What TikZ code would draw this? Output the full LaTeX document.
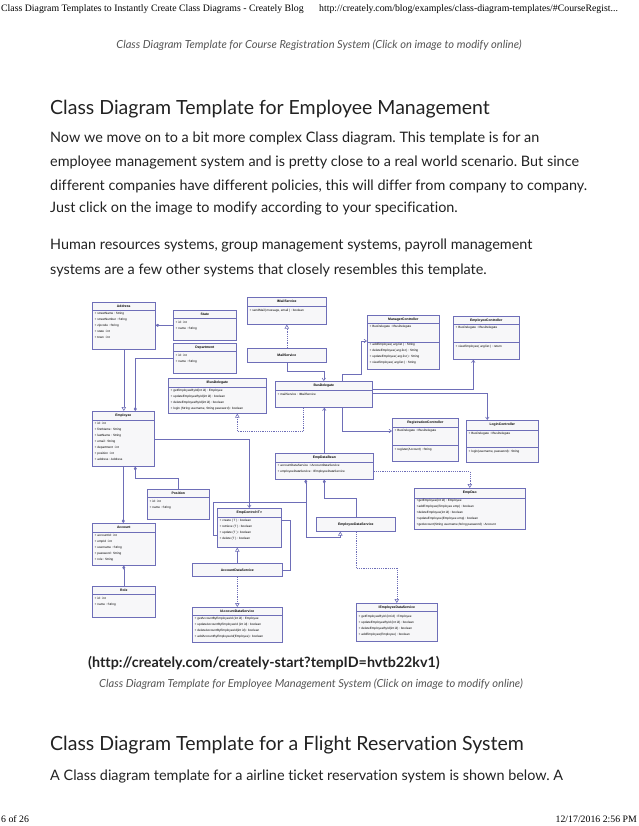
\documentclass[tikz,border=0pt]{standalone}
\usepackage{fontspec}
\setmainfont{Lato}[Ligatures=NoCommon]
\newfontfamily\timesfont{Liberation Serif}
\newfontfamily\boxfont{Liberation Sans}
\usetikzlibrary{positioning, calc, arrows.meta}
\frenchspacing

\definecolor{umlline}{HTML}{6E6EB8}
\definecolor{umlfill}{HTML}{F7F7F9}
\definecolor{capgray}{HTML}{555555}
\definecolor{bodyink}{HTML}{222222}

\tikzset{
  clsbox/.style={draw=umlline, fill=umlfill, line width=0.6pt, inner sep=0pt, anchor=north west},
  clstitle/.style={font=\boxfont\fontsize{3.4}{4}\selectfont\bfseries, inner sep=0pt},
  members/.style={font=\boxfont\fontsize{3.1}{6}\selectfont, align=left, anchor=north west, inner sep=0pt},
  umlwire/.style={draw=umlline, line width=0.6pt},
  assoc/.style={umlwire, -{Straight Barb[length=2.5pt,width=3.5pt]}},
  inherit/.style={umlwire, -{Triangle[open,length=4pt,width=4.5pt]}},
  realize/.style={inherit, dash pattern=on 1.2pt off 1pt},
  owner/.style={umlwire, {Diamond[length=4pt,width=3pt]}-},
  owned/.style={umlwire, -{Diamond[length=4pt,width=3pt]}},
  bodyline/.style={anchor=west, text=bodyink, inner sep=0pt, font=\fontsize{14.4}{17}\selectfont},
  caption/.style={text=capgray, inner sep=0pt, font=\itshape\fontsize{11.1}{13}\selectfont},
  heading/.style={anchor=west, text=bodyink, inner sep=0pt, font=\fontsize{19.5}{22}\selectfont},
  printline/.style={inner sep=0pt, font=\timesfont\fontsize{9.8}{11}\selectfont}
}

% class box with a title band
\newcommand{\umlclass}[6]{%
  \node[clsbox, minimum width=#4pt, minimum height=#5pt] (#1) at (#2,#3) {};
  \node[clstitle] (#1-t) at ([yshift=-4.3pt]#1.north) {#6};
}
% class box holding only its name
\newcommand{\umlname}[6]{%
  \node[clsbox, minimum width=#4pt, minimum height=#5pt] (#1) at (#2,#3) {};
  \node[clstitle] (#1-t) at (#1.center) {#6};
}
\newcommand{\umlsep}[2]{\draw[umlwire, line width=0.5pt] ([yshift=-#2pt]#1.north west) -- ([yshift=-#2pt]#1.north east);}
\newcommand{\umlmembers}[3]{\node[members] at ([xshift=2.5pt,yshift=-#2pt]#1.north west) {#3};}

\begin{document}
\begin{tikzpicture}[x=1pt, y=-1pt]
    \useasboundingbox[fill=white] (0,0) rectangle (638,826);

    % Browser print header
    \node[printline, anchor=base west] (hdrtitle) at (1,12) {Class Diagram Templates to Instantly Create Class Diagrams - Creately Blog};
    \node[printline, anchor=base west] (hdrurl) at (319,12) {http://creately.com/blog/examples/class-diagram-templates/\#CourseRegist...};

    % Caption of the previous template
    \node[caption] (cap1) at (319,45) {Class Diagram Template for Course Registration System (Click on image to modify online)};

    % Heading and text
    \node[heading] (head1) at (50,109) {Class Diagram Template for Employee Management};
    \node[bodyline] (para1a) at (50,139) {Now we move on to a bit more complex Class diagram. This template is for an};
    \node[bodyline] (para1b) at (50,163) {employee management system and is pretty close to a real world scenario. But since};
    \node[bodyline] (para1c) at (50,186) {different companies have different policies, this will differ from company to company.};
    \node[bodyline] (para1d) at (50,209) {Just click on the image to modify according to your specification.};
    \node[bodyline] (para2a) at (50,246) {Human resources systems, group management systems, payroll management};
    \node[bodyline] (para2b) at (50,270) {systems are a few other systems that closely resembles this template.};

    % Classes - left column
    \umlclass{address}{92}{302}{63}{47}{Address}
    \umlsep{address}{8}
    \umlmembers{address}{10.5}{+ streetName : String\\+ streetNumber : String\\+ zipcode : String\\+ state : int\\+ town : int}

    \umlclass{state}{173}{310}{63}{30}{State}
    \umlsep{state}{8}
    \umlmembers{state}{11}{+ id : int\\+ name : String}

    \umlclass{department}{173}{343}{63}{30}{Department}
    \umlsep{department}{8}
    \umlmembers{department}{11}{+ id : int\\+ name : String}

    \umlclass{employee}{92}{411}{62}{55}{Employee}
    \umlsep{employee}{9}
    \umlmembers{employee}{11}{+ id : int\\+ firstName : String\\+ lastName : String\\+ email : String\\+ department : int\\+ position : int\\+ address : Address}

    \umlclass{position}{147}{489}{62}{30}{Position}
    \umlsep{position}{8}
    \umlmembers{position}{11}{+ id : int\\+ name : String}

    \umlclass{account}{92}{523}{63}{42}{Account}
    \umlsep{account}{9}
    \umlmembers{account}{11.5}{+ accountId : int\\+ empId : int\\+ username : String\\+ password : String\\+ role : String}

    \umlclass{role}{92}{586}{63}{31}{Role}
    \umlsep{role}{8}
    \umlmembers{role}{11}{+ id : int\\+ name : String}

    % Classes - services and delegates
    \umlclass{imail}{247}{297}{79}{27}{IMailService}
    \umlsep{imail}{9}
    \umlmembers{imail}{12}{+ sendMail( message, email ) : boolean}

    \umlname{mailsvc}{247}{348}{79}{14}{MailService}

    \umlclass{ibus}{168}{378}{98}{35}{IBusDelegate}
    \umlsep{ibus}{9}
    \umlmembers{ibus}{11}{+ getEmployeeById(int id) : Employee\\+ updateEmployeeById(int id) : boolean\\+ deleteEmployeeById(int id) : boolean\\+ login (String username, String password) : boolean}

    \umlclass{busdel}{275}{381}{97}{26}{BusDelegate}
    \umlsep{busdel}{9}
    \umlmembers{busdel}{12}{+ mailService : IMailService}

    \umlclass{bean}{275}{453}{98}{26}{EmpDataBean}
    \umlsep{bean}{9}
    \umlmembers{bean}{11}{+ accountDataService : IAccountDataService\\+ employeeDataService : IEmployeeDataService}

    \umlclass{empcontrol}{217}{508}{64}{39}{EmpControl<T>}
    \umlsep{empcontrol}{9}
    \umlmembers{empcontrol}{11}{+ create ( T ) : boolean\\+ retrieve (T ) : boolean\\+ update (T ) : boolean\\+ delete (T ) : boolean}

    \umlname{empsvc}{316}{517}{79}{14}{EmployeeDataService}
    \umlname{accsvc}{192}{563}{90}{13}{AccountDataService}

    \umlclass{iaccsvc}{192}{607}{90}{35}{IAccountDataService}
    \umlsep{iaccsvc}{8}
    \umlmembers{iaccsvc}{10}{+ getAccountByEmployeeId (int id) : Employee\\+ updateAccountByEmployeeId (int id) : boolean\\+ deleteAccountByEmployeeId(int id) : boolean\\+ addAccountByEmployeeId(Employee) : boolean}

    \umlclass{iempsvc}{356}{603}{81}{38}{IEmployeeDataService}
    \umlsep{iempsvc}{8}
    \umlmembers{iempsvc}{12.5}{+ getEmployeeById (int id) : Employee\\+ updateEmployeeById (int id) : boolean\\+ deleteEmployeeById(int id) : boolean\\+ addEmployee(Employee) : boolean}

    % Classes - controllers and dao
    \umlclass{mgr}{367}{315}{72}{54}{ManagerController}
    \umlsep{mgr}{8}
    \umlmembers{mgr}{10.5}{+ BusDelegate : IBusDelegate}
    \umlsep{mgr}{27}
    \umlmembers{mgr}{28.5}{+ addEmployee( arg.list ) : String\\+ deleteEmployee( arg.list ) : String\\+ updateEmployee( arg.list ) : String\\+ viewEmployee( arg.list ) : String}

    \umlclass{empctl}{453}{316}{66}{43}{EmployeeController}
    \umlsep{empctl}{8}
    \umlmembers{empctl}{10.5}{+ BusDelegate : IBusDelegate}
    \umlsep{empctl}{26}
    \umlmembers{empctl}{29}{+ viewEmployee( arg.list ) : return}

    \umlclass{reg}{392}{418}{66}{43}{RegistrationController}
    \umlsep{reg}{9}
    \umlmembers{reg}{11.5}{+ BusDelegate : IBusDelegate}
    \umlsep{reg}{27}
    \umlmembers{reg}{30}{+ register(Account) : String}

    \umlclass{login}{466}{420}{72}{42}{LoginController}
    \umlsep{login}{10}
    \umlmembers{login}{12.5}{+ BusDelegate : IBusDelegate}
    \umlsep{login}{27}
    \umlmembers{login}{30}{+ login(username, password) : String}

    \umlclass{dao}{414}{488}{111}{41}{EmpDao}
    \umlsep{dao}{10}
    \umlmembers{dao}{11.5}{+getEmployee(int id) : Employee\\+addEmployee(Employee emp) : boolean\\+deleteEmployee(int id) : boolean\\+updateEmployee(Employee emp) : boolean\\+getAccount(String username,String password) : Account}

    % Connectors
    \draw[owner] (address.east |- state.west) -- (state.west);
    \draw[inherit] (address.south) -- (address.south |- employee.north);
    \draw[owned] (department.west) -| ([xshift=12pt]employee.north);
    \draw[assoc] ([yshift=-28pt]employee.north east) -| (empcontrol.north);
    \draw[owned] (position.north) |- ([xshift=12pt,yshift=-12pt]employee.south) -- ([xshift=12pt]employee.south);
    \draw[owned] (employee.south) -- (employee.south |- account.north);
    \draw[owner] (account.south) -- (account.south |- role.north);

    \draw[realize] (mailsvc.north) -- (mailsvc.north |- imail.south);
    \draw[assoc] (mailsvc.south) -- ++(0,9) -| (busdel.north);
    \draw[assoc] ([xshift=18.5pt]busdel.north) -- ++(0,-7) -- ++(19,0) |- ([yshift=-26pt]mgr.north west);
    \draw[assoc] ([yshift=-8pt]busdel.north east) -| ([xshift=-13pt]empctl.south);
    \draw[assoc] ([yshift=-12.5pt]busdel.north east) -| ([xshift=-15pt]login.north);
    \draw[assoc] ([xshift=18.5pt]busdel.south) |- ([yshift=-13pt]reg.north west);
    \draw[realize] ([xshift=-20.5pt]busdel.south) -- ++(0,24) -| ([xshift=20pt]ibus.south);
    \draw[assoc] (bean.north) -- (bean.north |- busdel.south);
    \draw[realize] ([yshift=-18pt]bean.north east) -| (dao.north);

    \draw[umlwire, {Diamond[length=4pt,width=3pt]}-{Triangle[open,length=4pt,width=4.5pt]}] ([xshift=-18.5pt]bean.south) |- ([xshift=-15.5pt,yshift=-6pt]empsvc.south) -- ([xshift=-15.5pt]empsvc.south);
    \draw[owner] (bean.south) |- ([yshift=19pt]empsvc.north) -- (empsvc.north);
    \draw[umlwire] ([xshift=-18.5pt,yshift=-22.5pt]bean.south) -| ([xshift=-4pt,yshift=-27pt]empcontrol.north west) -- ([yshift=-27pt]empcontrol.north west);
    \draw[umlwire] ([yshift=-12.5pt]empcontrol.north east) -- ++(8.5,0) |- (accsvc.east);
    \draw[inherit] (accsvc.north) -- (accsvc.north |- empcontrol.south);
    \draw[realize] (accsvc.south) -- (accsvc.south |- iaccsvc.north);
    \draw[realize] (empsvc.south) -- ++(0,36.5) -| (iempsvc.north);

    % Link and caption under the diagram
    \node[anchor=west, text=bodyink, inner sep=0pt, font=\fontsize{14.3}{17}\selectfont\bfseries] (tplurl) at (88,663) {(http://creately.com/creately-start?tempID=hvtb22kv1)};
    \node[caption] (cap2) at (311,684) {Class Diagram Template for Employee Management System (Click on image to modify online)};

    % Next section
    \node[heading] (head2) at (50,745) {Class Diagram Template for a Flight Reservation System};
    \node[bodyline] (para3) at (50,777) {A Class diagram template for a airline ticket reservation system is shown below. A};

    % Browser print footer
    \node[printline, anchor=base west] (pagecount) at (1,822) {6 of 26};
    \node[printline, anchor=base east] (printdate) at (637,822) {12/17/2016 2:56 PM};
\end{tikzpicture}
\end{document}
